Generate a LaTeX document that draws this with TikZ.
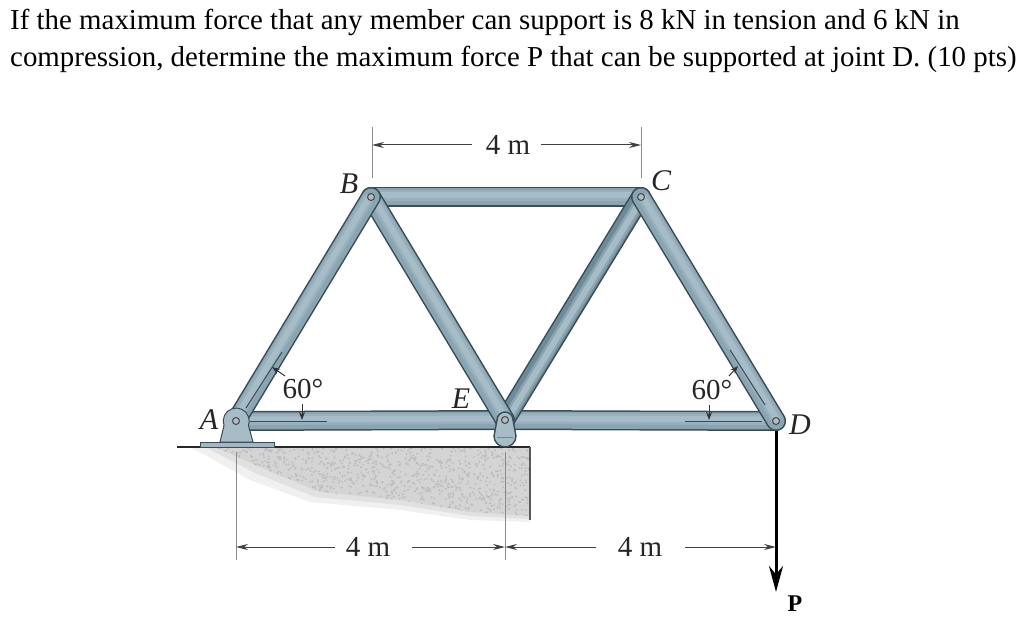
\documentclass[tikz,border=0pt]{standalone}
\usepackage{fontspec}
\setmainfont{Liberation Serif}
\usetikzlibrary{calc,arrows.meta}
\definecolor{edgedark}{HTML}{3A4C55}
\definecolor{barmid}{HTML}{8AA5B2}
\definecolor{barlight}{HTML}{A6BCC7}
\definecolor{barshade}{HTML}{6C8A98}
\definecolor{dimgray}{HTML}{8A8A8A}
\definecolor{groundgray}{HTML}{D4D4D4}
\definecolor{speck}{HTML}{BDBDBD}
\newcommand{\trussbar}[3]{%
  \draw[line width=20pt,edgedark,line cap=round] (#1) -- (#2);
  \draw[line width=17pt,#3,line cap=round] (#1) -- (#2);
  \draw[line width=11pt,#3!50!barlight] ($(#1)!1.5pt!90:(#2)$) -- ($(#2)!1.5pt!-90:(#1)$);
  \draw[line width=6pt,barlight] ($(#1)!1.5pt!90:(#2)$) -- ($(#2)!1.5pt!-90:(#1)$);
}
\tikzset{
  txt/.style={font=\fontsize{28.9}{32}\selectfont,anchor=base west,inner sep=0pt},
  lbl/.style={font=\fontsize{30}{32}\selectfont\itshape,inner sep=0pt,text=black!85},
  dimtxt/.style={font=\fontsize{29}{32}\selectfont,inner sep=0pt,text=black!85},
  dimarrow/.style={line width=1pt,black!75,-{Stealth[length=12pt,width=6pt]}},
  witness/.style={line width=1pt,dimgray},
  pinhole/.style={circle,draw=edgedark,fill=dimgray!60,line width=1pt,minimum size=7pt,inner sep=0pt},
  guide/.style={line width=1pt,edgedark},
  tick/.style={line width=1pt,black!80,-{Stealth[length=8pt,width=6pt]}}
}
\begin{document}
\begin{tikzpicture}[x=1pt,y=-1pt]
\useasboundingbox (0,0) rectangle (1024,628);
\node[txt] (line1) at (10,30) {If the maximum force that any member can support is 8 kN in tension and 6 kN in};
\node[txt] (line2) at (10,67) {compression, determine the maximum force P that can be supported at joint D. (10 pts)};

% ground
\fill[groundgray!35] (190,447) -- (530,447) -- (530,522) -- (470,520) -- (400,510) -- (310,502) -- (250,480) -- cycle;
\fill[groundgray!70] (205,447) -- (530,447) -- (530,519) -- (470,516) -- (400,505) -- (315,497) -- (255,473) -- cycle;
\begin{scope}
\clip (215,447) -- (530,447) -- (530,516) -- (470,512) -- (400,500) -- (320,492) -- (260,467) -- cycle;
\fill[groundgray] (215,447) rectangle (530,522);
\pgfmathsetseed{11}
\foreach \i in {1,...,1400}{
  \pgfmathsetmacro{\px}{215+315*rnd}
  \pgfmathsetmacro{\py}{447+75*rnd}
  \fill[speck] (\px,\py) circle (1.1pt);
}
\end{scope}
\coordinate (gl) at (177,447);
\coordinate (gr) at (530,447);
\coordinate (gb) at (530,520);
\draw[line width=1.4pt,black!85] (gl) -- (gr);
\draw[line width=1.6pt,black!65] (gr) -- (gb);

% joints
\coordinate (A) at (236,421);
\coordinate (B) at (371,197);
\coordinate (C) at (641,197);
\coordinate (E) at (505,420);
\coordinate (D) at (776,421);

% load, under the bar
\coordinate (Ptip) at (776,592);
\draw[line width=3pt,black,-{Stealth[length=26pt,width=14pt]}] (D) -- (Ptip);

% witness lines
\coordinate (w1a) at (236,452); \coordinate (w1b) at (236,560);
\coordinate (w2a) at (505,452); \coordinate (w2b) at (505,560);
\coordinate (w3a) at (372,127); \coordinate (w3b) at (372,178);
\coordinate (w4a) at (641,127); \coordinate (w4b) at (641,178);
\draw[witness] (w1a) -- (w1b);
\draw[witness] (w2a) -- (w2b);
\draw[witness] (w3a) -- (w3b);
\draw[witness] (w4a) -- (w4b);

% members
\trussbar{A}{E}{barmid}
\trussbar{E}{D}{barmid}
\trussbar{B}{C}{barmid}
\trussbar{C}{E}{barshade}
\trussbar{B}{E}{barmid}
\trussbar{C}{D}{barmid}
\trussbar{A}{B}{barmid}

% A support
\coordinate (pl) at (200,442); \coordinate (pr) at (274,447);
\fill[barmid!80,draw=edgedark,line width=1pt] (pl) rectangle (pr);
\filldraw[fill=barlight,draw=edgedark,line width=1pt] (220,442) -- (224,425.5) arc[start angle=200,end angle=-20,radius=13pt] -- (253,442) -- cycle;
\node[pinhole] (pinA) at (A) {};

% E support
\filldraw[fill=barlight,draw=edgedark,line width=1.4pt] (497,420) arc[start angle=180,end angle=0,radius=8pt] -- (516,436) arc[start angle=0,end angle=-180,radius=11pt] -- cycle;
\draw[line width=1pt,barshade] (497,437) -- (513,437);
\node[pinhole] (pinE) at (E) {};
\node[pinhole] (pinB) at (B) {};
\node[pinhole] (pinC) at (C) {};
\node[pinhole] (pinD) at (D) {};

% centre lines
\coordinate (ga1) at (250,421); \coordinate (ga2) at (327,421);
\coordinate (gb1) at (246,408); \coordinate (gb2) at (282,352);
\coordinate (gc1) at (685,421); \coordinate (gc2) at (762,421);
\coordinate (gd1) at (765,405); \coordinate (gd2) at (730,350);
\draw[guide] (ga1) -- (ga2);
\draw[guide] (gb1) -- (gb2);
\draw[guide] (gc1) -- (gc2);
\draw[guide] (gd1) -- (gd2);
\coordinate (t1a) at (302,404); \coordinate (t1b) at (302,420);
\coordinate (t2a) at (285,376); \coordinate (t2b) at (272,367);
\coordinate (t3a) at (709,405); \coordinate (t3b) at (709,420);
\coordinate (t4a) at (729,376); \coordinate (t4b) at (738,366);
\draw[tick] (t1a) -- (t1b);
\draw[tick] (t2a) -- (t2b);
\draw[tick] (t3a) -- (t3b);
\draw[tick] (t4a) -- (t4b);

% labels
\node[lbl] (la) at (209,420) {A};
\node[lbl] (lb) at (349,184) {B};
\node[lbl] (lc) at (661,181) {C};
\node[lbl] (le) at (461,399) {E};
\node[lbl] (ld) at (800,425) {D};
\node[dimtxt] (a1) at (303,389) {60°};
\node[dimtxt] (a2) at (712,390) {60°};
\node[font=\fontsize{24}{26}\selectfont\bfseries,inner sep=0pt] (lp) at (795,604) {P};

% dimensions
\node[dimtxt] (d1) at (508,145) {4 m};
\node[dimtxt] (d2) at (368,547) {4 m};
\node[dimtxt] (d3) at (640,547) {4 m};
\coordinate (top1) at (372,145); \coordinate (top2) at (641,145);
\coordinate (bot1) at (236,547); \coordinate (bot2) at (505,547); \coordinate (bot3) at (776,547);
\draw[dimarrow] (472,145) -- (top1);
\draw[dimarrow] (541,145) -- (top2);
\draw[dimarrow] (335,547) -- (bot1);
\draw[dimarrow] (412,547) -- (bot2);
\draw[dimarrow] (596,547) -- (bot2);
\draw[dimarrow] (685,547) -- (bot3);
\end{tikzpicture}
\end{document}
